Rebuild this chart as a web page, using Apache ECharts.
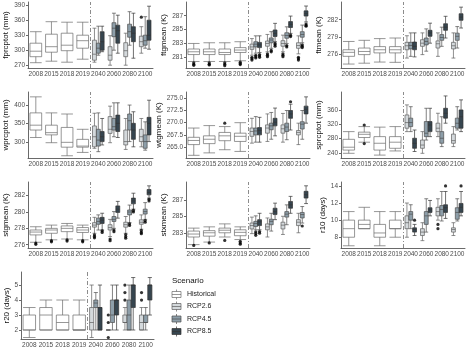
<!DOCTYPE html>
<html><head><meta charset="utf-8">
<script src="https://cdn.jsdelivr.net/npm/echarts@6/dist/echarts.min.js"></script>
<style>html,body{margin:0;padding:0;background:#fff}#c{width:474px;height:362px}</style>
</head><body><div id="c"></div>
<script>
const categories = ['2008','2015','2018','2019','2040','2060','2080','2100'];
const rcpCatIndex = [4,5,6,7];
const scenarios = ['Historical','RCP2.6','RCP4.5','RCP8.5'];

// each box: [min, Q1, median, Q3, max]; outliers: [categoryIndex, scenarioIndex, value]
const fprcptot_hist  = [[276,288,299,315,338],[279,297,308,333,358],[277,300,311,335,357],[283,305,320,331,357]];
const fprcptot_rcp26 = [[277,281,293,321,345],[271,281,291,308,330],[271,288,300,316,335],[295,308,318,329,348]];
const fprcptot_rcp45 = [[291,295,305,315,349],[301,328,345,356,375],[311,327,338,353,378],[305,311,320,331,368]];
const fprcptot_rcp85 = [[298,301,318,338,349],[295,315,340,351,371],[285,318,335,348,375],[303,321,331,361,389]];
const fprcptot_out   = [[7,1,367]];
const fprcptot_ticks = [270,300,330,360,390];

const ftgmean_hist  = [[280.4,281.4,281.8,282.2,283.0],[280.4,281.4,281.8,282.2,283.1],[280.4,281.4,281.7,282.2,283.1],[280.5,281.7,282.05,282.4,283.25]];
const ftgmean_rcp26 = [[281.3,282.15,282.5,282.9,283.7],[281.8,282.6,283.0,283.35,284.3],[281.8,282.6,283.0,283.4,284.2],[281.5,282.3,282.7,283.1,284.1]];
const ftgmean_rcp45 = [[281.6,282.5,282.9,283.25,284.1],[282.3,283.1,283.5,283.8,284.7],[283.0,283.75,284.15,284.55,285.4],[283.1,283.9,284.3,284.7,285.65]];
const ftgmean_rcp85 = [[281.7,282.4,282.8,283.15,284.1],[283.25,284.0,284.45,284.95,285.9],[284.45,285.3,285.75,286.15,286.95],[286.1,286.95,287.3,287.7,288.4]];
const ftgmean_out   = [[0,0,280.2],[0,0,280.0],[0,0,279.85],[1,0,280.2],[1,0,280.0],[1,0,279.9],[2,0,280.2],[2,0,280.0],[2,0,279.8],[3,0,280.3],[3,0,280.1],[3,0,279.95],
  [4,1,281.0],[4,1,280.8],[4,1,280.6],[4,2,281.3],[4,2,281.1],[4,2,280.9],[4,3,281.4],[4,3,281.2],[4,3,281.0],
  [5,1,281.5],[5,1,281.3],[5,1,281.1],[5,2,282.0],[5,2,281.8],[5,3,283.0],[5,3,282.8],[5,3,282.6],
  [6,1,281.5],[6,1,281.3],[6,1,281.1],[6,2,282.7],[6,2,282.5],[6,3,284.2],[6,3,284.0],
  [7,1,281.0],[7,1,280.8],[7,1,280.6],[7,2,282.8],[7,2,282.6],[7,2,282.4],[7,3,285.8],[7,3,285.6],[7,3,285.5]];
const ftgmean_ticks = [281,283,285,287];

const ftmean_hist  = [[274.25,275.6,276.3,276.75,278.2],[274.4,275.9,276.45,277.05,278.4],[274.6,276.2,276.75,277.3,278.7],[274.55,276.2,276.75,277.3,278.8]];
const ftmean_rcp26 = [[275.3,276.75,277.45,278.05,279.2],[275.9,277.35,277.9,278.5,279.7],[275.6,277.05,277.8,278.3,279.7],[275.3,276.9,277.45,278.05,279.7]];
const ftmean_rcp45 = [[275.6,276.9,277.5,278.05,279.7],[276.5,277.6,278.2,278.8,280.4],[277.35,278.4,278.9,279.4,280.7],[277.05,278.4,279.1,279.65,280.8]];
const ftmean_rcp85 = [[275.5,276.75,277.35,278.1,279.7],[277.9,279.1,279.7,280.15,281.4],[278.8,280.15,280.7,281.3,282.6],[280.55,281.9,282.45,283.05,284.2]];
const ftmean_out   = [];
const ftmean_ticks = [276,279,282];

const wprcptot_hist  = [[313,333,346,379,422],[299,320,326,346,379],[264,287,300,340,376],[273,287,290,308,335]];
const wprcptot_rcp26 = [[284,288,315,344,378],[299,324,335,369,397],[281,293,302,333,364],[288,302,315,335,364]];
const wprcptot_rcp45 = [[275,290,306,335,379],[315,333,342,364,406],[302,333,358,376,400],[279,284,302,320,355]];
const wprcptot_rcp85 = [[293,302,315,329,364],[313,329,351,373,406],[288,308,333,351,382],[302,320,351,367,413]];
const wprcptot_out   = [];
const wprcptot_ticks = [300,350,400];

const wtgmean_hist  = [[263.3,265.5,266.35,267.0,268.9],[263.8,265.7,266.6,267.3,269.4],[264.45,266.3,267.3,268.0,269.2],[264.1,266.15,267.2,267.85,270.0]];
const wtgmean_rcp26 = [[265.8,267.2,268.2,268.9,270.9],[266.15,267.85,268.9,269.55,271.8],[266.0,267.85,268.75,269.55,271.9],[265.5,267.5,268.0,268.4,269.9]];
const wtgmean_rcp45 = [[266.0,267.5,268.3,268.9,271.25],[266.6,268.55,269.35,269.9,272.1],[266.5,268.2,269.1,269.9,272.5],[266.6,268.7,269.7,270.2,272.5]];
const wtgmean_rcp85 = [[266.0,267.5,268.4,269.0,271.1],[267.3,269.35,270.1,270.9,273.0],[268.5,270.9,271.8,272.5,273.8],[269.9,271.8,272.75,273.4,275.3]];
const wtgmean_out   = [[2,0,269.9],[6,3,274.3]];
const wtgmean_ticks = [265,267.5,270,272.5,275];

const sprcptot_hist  = [[239,248,256,278,299.5],[270,283,292,298,313.5],[234,248,267,285.5,312],[245.6,253,270,285.5,313.5]];
const sprcptot_rcp26 = [[299.5,309,324.7,346,374],[239,253,262,276,299.5],[285.5,299.5,309,323,350.7],[257.7,267,274.4,292.6,313.5]];
const sprcptot_rcp45 = [[299.5,313.5,324.7,337,369],[276,285.5,295,327.5,364.6],[257.7,267,281,299.5,341],[304,309,322.8,337,369]];
const sprcptot_rcp85 = [[244,253,267,281,304],[285.5,299.5,318,327.5,364.6],[323,337,350.7,364.6,399],[299.5,309,341,360,388]];
const sprcptot_out   = [[1,0,318],[1,0,266]];
const sprcptot_ticks = [240,280,320,360];

const stgmean_hist  = [[276.3,277.2,277.55,277.8,278.2],[276.6,277.4,277.8,278.0,278.4],[276.7,277.6,278.0,278.3,278.6],[276.6,277.5,277.8,278.1,278.4]];
const stgmean_rcp26 = [[277.4,278.15,278.4,278.7,279.35],[277.0,277.8,278.1,278.45,279.1],[277.4,278.15,278.45,278.75,279.45],[277.9,278.5,278.75,279.05,279.65]];
const stgmean_rcp45 = [[277.8,278.5,278.85,279.25,279.65],[278.0,278.85,279.1,279.45,280.05],[278.7,279.65,280.0,280.25,280.85],[279.1,279.75,280.05,280.35,281.15]];
const stgmean_rcp85 = [[277.8,278.6,279.0,279.35,279.85],[279.25,279.95,280.35,280.75,281.3],[280.35,281.0,281.35,281.7,282.3],[281.7,282.1,282.4,282.75,283.2]];
const stgmean_out   = [[0,0,276.2],[0,0,276.05],[1,0,276.5],[1,0,276.35],[2,0,276.6],[2,0,276.45],[3,0,276.5],[3,0,276.35],
  [4,1,277.2],[4,1,277.0],[4,1,276.85],[4,3,277.7],[4,3,277.5],[5,1,276.7],[5,1,276.5],[5,2,277.8],[5,2,277.6],
  [6,1,277.25],[6,1,277.0],[6,1,276.8],[6,2,278.55],[6,2,278.35],[6,3,280.2],[6,3,280.0],
  [7,1,277.75],[7,1,277.5],[7,1,277.35],[7,2,278.95],[7,2,278.75],[7,3,281.55],[7,3,281.35]];
const stgmean_ticks = [276,278,280,282];

const stxmean_hist  = [[281.7,282.6,282.95,283.3,283.65],[282.0,282.7,283.1,283.35,283.8],[282.6,283.1,283.4,283.65,284.15],[282.3,282.75,283.15,283.45,283.8]];
const stxmean_rcp26 = [[283.0,283.55,283.95,284.25,284.95],[282.6,283.45,283.8,284.15,284.85],[282.9,283.55,284.0,284.35,285.05],[283.1,283.95,284.35,284.65,285.4]];
const stxmean_rcp45 = [[283.45,283.85,284.2,284.45,285.1],[283.3,284.05,284.45,284.7,285.4],[284.05,284.95,285.3,285.6,286.4],[284.25,284.85,285.25,285.5,286.2]];
const stxmean_rcp85 = [[283.45,283.95,284.4,284.65,285.4],[284.65,285.25,285.6,286.0,286.6],[285.4,286.0,286.4,286.8,287.4],[286.55,287.2,287.6,288.0,288.65]];
const stxmean_out   = [[0,0,281.6],[1,0,281.9],[2,0,282.2],[3,0,282.1],[3,0,281.9],[3,0,281.75],[4,2,283.2],[4,2,283.0],[4,2,282.8],[4,3,283.25],[4,3,283.05],[7,2,283.9]];
const stxmean_ticks = [283,285,287];

const r10_hist  = [[7,8,9,10,11],[9,9,9.5,10,11.5],[7,8,8.5,9.5,11],[8,9,9,10,11]];
const r10_rcp26 = [[8,9,9.7,10.5,12],[7.6,8.2,8.6,9,9.7],[10,10.5,11,11.5,12.5],[8.2,8.6,8.9,9.1,9.7]];
const r10_rcp45 = [[9,10,10.7,11,11.8],[8.6,9.5,10.5,11,12.5],[9.9,10.5,11.25,11.7,13.35],[9.9,10.1,10.9,11.45,12.5]];
const r10_rcp85 = [[8.2,8.6,8.9,9.1,9.5],[10.5,10.9,11.2,11.45,12.3],[10.2,10.9,11.45,11.8,13.35],[10.5,10.9,11.5,11.95,13.35]];
const r10_out   = [[4,3,10],[6,1,9.5],[6,1,9],[6,3,14],[7,3,14]];
const r10_ticks = [8,10,12,14];

const r20_hist  = [[1.5,2,2,3,3.5],[2,2,3,3.5,4],[2,2,2.5,3,4],[2,2,2,3,4]];
const r20_rcp26 = [[1.5,2,2.5,3.5,5],[2,2,2,2,2],[2,2.5,2.5,3,3.5],[2,2,2.5,3,3.5]];
const r20_rcp45 = [[2,3.5,3.8,4,4.5],[2,2.5,3,4,5],[2,2,3,4,5],[2,2.5,2.5,3,3.5]];
const r20_rcp85 = [[2,2,3.5,3.5,5],[2,3,4,4,5],[2,3.5,5,5,5.5],[3,4,5,5,5.5]];
const r20_out   = [[5,1,3],[5,1,2.5],[5,1,1.5],[6,1,5],[6,1,4.5],[6,1,4],[7,1,4.5],[7,1,4]];
const r20_ticks = [2,3,4,5];

const panels = [
  {name:'fprcptot (mm)', d:[fprcptot_hist,fprcptot_rcp26,fprcptot_rcp45,fprcptot_rcp85], out:fprcptot_out, ticks:fprcptot_ticks, dec:0, min:265.4, max:397.4, g:[28,2,125,66], gap:17},
  {name:'ftgmean (K)', d:[ftgmean_hist,ftgmean_rcp26,ftgmean_rcp45,ftgmean_rcp85], out:ftgmean_out, ticks:ftgmean_ticks, dec:0, min:279.46, max:288.98, g:[186,2,124,66], gap:12.5},
  {name:'ftmean (K)', d:[ftmean_hist,ftmean_rcp26,ftmean_rcp45,ftmean_rcp85], out:ftmean_out, ticks:ftmean_ticks, dec:0, min:273.56, max:285.1, g:[341,2,124,66], gap:14},
  {name:'wprcptot (mm)', d:[wprcptot_hist,wprcptot_rcp26,wprcptot_rcp45,wprcptot_rcp85], out:wprcptot_out, ticks:wprcptot_ticks, dec:0, min:258, max:435, g:[28,92,125,66], gap:17},
  {name:'wtgmean (K)', d:[wtgmean_hist,wtgmean_rcp26,wtgmean_rcp45,wtgmean_rcp85], out:wtgmean_out, ticks:wtgmean_ticks, dec:1, min:262.75, max:276.3, g:[186,92,124,66], gap:12.5},
  {name:'sprcptot (mm)', d:[sprcptot_hist,sprcptot_rcp26,sprcptot_rcp45,sprcptot_rcp85], out:sprcptot_out, ticks:sprcptot_ticks, dec:0, min:225.9, max:410, g:[341,92,124,66], gap:13},
  {name:'stgmean (K)', d:[stgmean_hist,stgmean_rcp26,stgmean_rcp45,stgmean_rcp85], out:stgmean_out, ticks:stgmean_ticks, dec:0, min:275.6, max:283.67, g:[28,182,125,66], gap:16},
  {name:'stxmean (K)', d:[stxmean_hist,stxmean_rcp26,stxmean_rcp45,stxmean_rcp85], out:stxmean_out, ticks:stxmean_ticks, dec:0, min:281.3, max:289.1, g:[186,182,124,66], gap:12},
  {name:'r10 (days)', d:[r10_hist,r10_rcp26,r10_rcp45,r10_rcp85], out:r10_out, ticks:r10_ticks, dec:0, min:6.74, max:14.46, g:[341,182,124,66], gap:12},
  {name:'r20 (days)', d:[r20_hist,r20_rcp26,r20_rcp45,r20_rcp85], out:r20_out, ticks:r20_ticks, dec:0, min:1.4, max:5.87, g:[21,272,133,67], gap:10}
];

const fills = ['#ffffff','#d4d9dc','#8d9ea9','#36454f'];
const borders = ['#6a6a6a','#5f5f5f','#4e4e4e','#333333'];
const axisCol = '#444';
const font = 'Liberation Sans, Arial, sans-serif';

const option = {animation:false, textStyle:{fontFamily:font}, grid:[], xAxis:[], yAxis:[], series:[], graphic:[]};

panels.forEach((p,i)=>{
  const [l,t,w,h] = p.g;
  option.grid.push({left:l, top:t, width:w, height:h});
  option.xAxis.push({type:'category', gridIndex:i, data:categories,
    axisLine:{onZero:false, lineStyle:{color:axisCol,width:0.8}},
    axisTick:{alignWithLabel:true, length:2, lineStyle:{color:axisCol,width:0.8}},
    axisLabel:{interval:0, fontSize:6.5, color:'#4d4d4d', margin:3, fontFamily:font},
    splitLine:{show:false}});
  option.xAxis.push({type:'category', gridIndex:i, data:categories, show:false});
  option.xAxis.push({type:'value', gridIndex:i, min:0, max:8, show:false});
  option.yAxis.push({type:'value', gridIndex:i, min:p.min, max:p.max,
    name:p.name, nameLocation:'middle', nameRotate:90, nameGap:p.gap,
    nameTextStyle:{fontSize:8, color:'#111', fontFamily:font},
    axisLine:{show:true, onZero:false, lineStyle:{color:axisCol,width:0.8}},
    axisTick:{show:true, length:2, customValues:p.ticks, lineStyle:{color:axisCol,width:0.8}},
    axisLabel:{customValues:p.ticks, fontSize:6.5, color:'#4d4d4d', margin:3, fontFamily:font,
      formatter:(v)=>Number(v).toFixed(p.dec)},
    splitLine:{show:false}});

  option.series.push({type:'boxplot', name:scenarios[0], xAxisIndex:3*i, yAxisIndex:i, silent:true,
    boxWidth:['75%','75%'], itemStyle:{color:fills[0], borderColor:borders[0], borderWidth:0.7},
    data:p.d[0]});
  for (let k=1;k<=3;k++){
    option.series.push({type:'boxplot', name:scenarios[k], xAxisIndex:3*i+1, yAxisIndex:i, silent:true,
      boxWidth:['25%','25%'], encode:{x:0, y:[1,2,3,4,5]},
      itemStyle:{color:fills[k], borderColor:borders[k], borderWidth:0.7},
      data:p.d[k].map((b,j)=>[rcpCatIndex[j]].concat(b))});
  }
  const band = w/8;
  const avail = band*0.8 - 2;
  const bgap = avail/3*0.3;
  const bw = (avail - 2*bgap)/3;
  const step = bw + bgap;
  const offs = [0, -step, 0, step];
  for (let s=0;s<4;s++){
    const pts = p.out.filter(o=>o[1]===s).map(o=>[o[0], o[2]]);
    if (!pts.length) continue;
    option.series.push({type:'scatter', xAxisIndex: s===0 ? 3*i : 3*i+1, yAxisIndex:i, silent:true,
      symbol:'circle', symbolSize:3.2, symbolOffset:[offs[s],0], itemStyle:{color:'#000'}, data:pts, z:5});
  }
  option.series.push({type:'scatter', xAxisIndex:3*i+2, yAxisIndex:i, silent:true, symbolSize:0,
    data:[[4,p.min]],
    markLine:{silent:true, symbol:['none','none'], label:{show:false},
      lineStyle:{color:'#6e6e6e', width:0.8, type:[4,2,1,2]}, data:[{xAxis:4}]}});
});

const legendY = [294.5, 306.5, 319, 331.5];
option.graphic.push({type:'text', style:{text:'Scenario', x:172, y:281, fontSize:8, fill:'#111', fontFamily:font, verticalAlign:'middle'}});
scenarios.forEach((s,k)=>{
  const y = legendY[k];
  option.graphic.push({type:'line', shape:{x1:176.5,y1:y-5,x2:176.5,y2:y+5}, style:{stroke:borders[k], lineWidth:0.7}});
  option.graphic.push({type:'rect', shape:{x:172,y:y-3,width:9,height:6}, style:{fill:fills[k], stroke:borders[k], lineWidth:0.7}});
  option.graphic.push({type:'line', shape:{x1:172,y1:y,x2:181,y2:y}, style:{stroke:borders[k], lineWidth:0.7}});
  option.graphic.push({type:'text', style:{text:s, x:187, y:y, fontSize:7, fill:'#222', fontFamily:font, verticalAlign:'middle'}});
});

const chart = echarts.init(document.getElementById('c'), null, {renderer:'canvas'});
chart.setOption(option);
</script>
</body></html>
